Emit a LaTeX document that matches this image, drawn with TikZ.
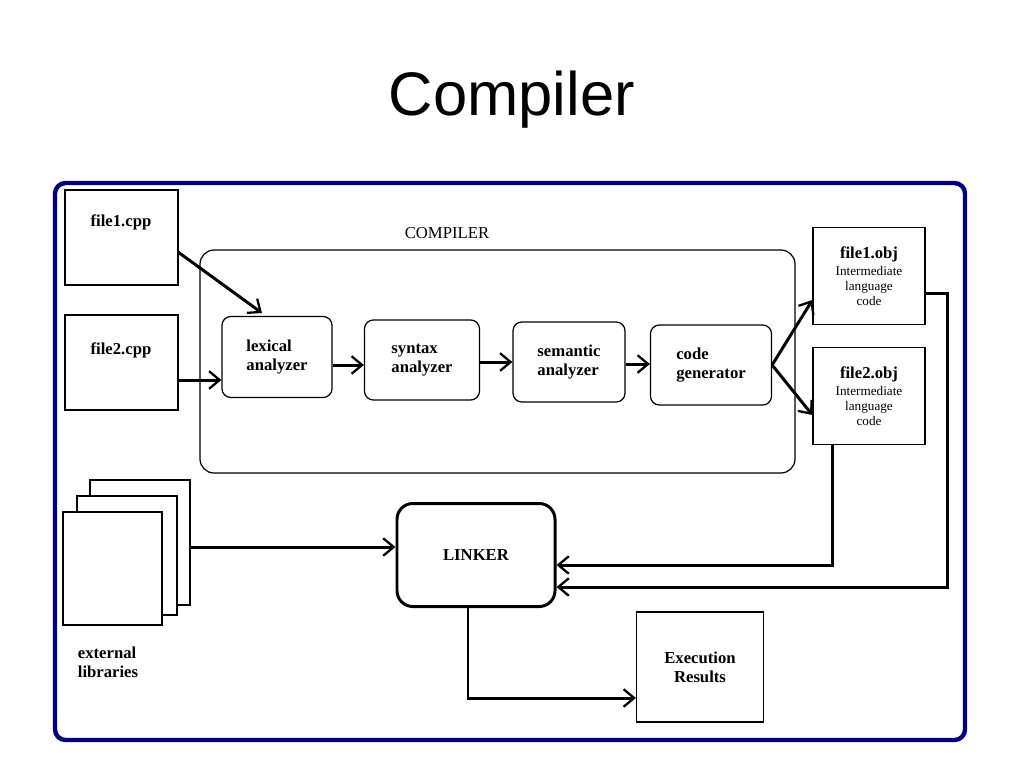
\documentclass[tikz,border=0pt]{standalone}
\usepackage{fontspec}
\setmainfont{Liberation Serif}
\newfontfamily\ttl{Liberation Sans}
\usetikzlibrary{arrows.meta}
\begin{document}
\begin{tikzpicture}[x=0.02cm,y=-0.02cm,
 box/.style={draw,line width=0.7pt,fill=white},
 rbox/.style={draw,line width=0.7pt,rounded corners=5pt,fill=white},
 lbl/.style={font=\fontsize{9.5}{11}\selectfont\bfseries,align=left},
 obj/.style={box,minimum width=112*0.02cm,minimum height=97*0.02cm,align=center,inner sep=1pt,font=\fontsize{7.5}{8.5}\selectfont},
 arr/.style={line width=1.7pt,-{Straight Barb[length=6pt,width=10pt,line width=1.3pt]}},
 conn/.style={line width=1.7pt}]
\useasboundingbox (0,0) rectangle (1024,768);
\node[font=\ttl\fontsize{35}{40}\selectfont] (title) at (512,100) {Compiler};
\draw[line width=2.5pt,color={rgb,255:red,0;green,0;blue,128},rounded corners=6pt] (55,183) rectangle (965,740);
% compiler frame
\draw[rbox,rounded corners=8pt] (200,250) rectangle (795,473);
\node[font=\fontsize{9.5}{11}\selectfont] (comp) at (447,233) {COMPILER};
% files
\draw[box] (65,190) rectangle (178,285);
\node[lbl] (f1t) at (121,222) {file1.cpp};
\draw[box] (65,315) rectangle (178,410);
\node[lbl] (f2t) at (121,350) {file2.cpp};
\coordinate (f1o) at (178,252);
\coordinate (f2o) at (178,380);
% stages
\node[rbox,minimum width=110*0.02cm,minimum height=81*0.02cm,lbl] (lex) at (277,357) {lexical\\analyzer};
\node[rbox,minimum width=115*0.02cm,minimum height=80*0.02cm,lbl] (syn) at (422,360) {syntax\\analyzer};
\node[rbox,minimum width=112*0.02cm,minimum height=80*0.02cm,lbl] (sem) at (569,362) {semantic\\analyzer};
\node[rbox,minimum width=121*0.02cm,minimum height=80*0.02cm,lbl] (gen) at (711,365) {code\\generator};
% obj files
\node[obj] (o1) at (869,276) {{\fontsize{9.5}{11}\selectfont\bfseries file1.obj}\\[1pt]Intermediate\\language\\code};
\node[obj] (o2) at (869,396) {{\fontsize{9.5}{11}\selectfont\bfseries file2.obj}\\[1pt]Intermediate\\language\\code};
% external libraries
\draw[box] (90,480) rectangle (190,605);
\draw[box] (77,496) rectangle (177,615);
\draw[box] (63,512) rectangle (162,625);
\coordinate (libo) at (190,547);
\node[lbl] (libt) at (108,662) {external\\libraries};
% linker
\node[draw,line width=1.7pt,rounded corners=9pt,minimum width=158*0.02cm,minimum height=103*0.02cm,lbl] (lnk) at (476,555) {LINKER};
\node[box,minimum width=127*0.02cm,minimum height=110*0.02cm,lbl,align=center] (exe) at (700,667) {Execution\\Results};
% arrows
\draw[arr] (f1o) -- (262,313);
\draw[arr] (f2o) -- (lex.west|-f2o);
\draw[arr] (lex.east|-0,365) -- (syn.west|-0,365);
\draw[arr] (syn.east|-0,362) -- (sem.west|-0,362);
\draw[arr] (sem.east|-0,364) -- (gen.west|-0,364);
\draw[arr] (gen.east) -- (o1.west|-0,300);
\draw[arr] (gen.east) -- (o2.west|-0,415);
\draw[arr] (libo) -- (lnk.west|-libo);
\draw[arr] (832,445) -- (832,565) -- (lnk.east|-0,565);
\draw[arr] (o1.east|-0,293) -- (947,293) -- (947,587) -- (lnk.east|-0,587);
\draw[arr] (lnk.south-|468,0) -- (468,698) -- (exe.west|-0,698);
\end{tikzpicture}
\end{document}
